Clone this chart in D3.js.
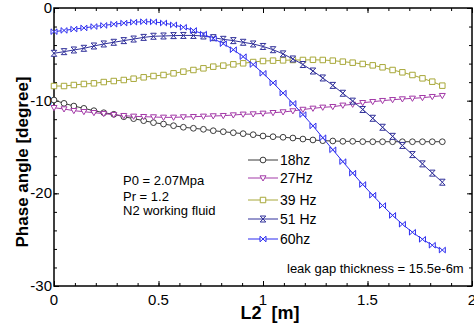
<!DOCTYPE html>
<html>
<head>
<meta charset="utf-8">
<script src="https://cdn.jsdelivr.net/npm/d3@7"></script>
<style>
  body { margin: 0; background: #fff; }
  svg { display: block; font-family: "Liberation Sans", Arial, sans-serif; }
</style>
</head>
<body>
<div id="chart"></div>
<script>
// L2 positions (m)
var xs = [0, 0.048, 0.095, 0.143, 0.191, 0.238, 0.286, 0.334, 0.381, 0.429,
  0.476, 0.524, 0.572, 0.619, 0.667, 0.715, 0.762, 0.810, 0.858, 0.905,
  0.953, 1.000, 1.048, 1.096, 1.143, 1.191, 1.239, 1.286, 1.334, 1.382,
  1.429, 1.477, 1.525, 1.572, 1.620, 1.667, 1.715, 1.763, 1.810, 1.858];

// phase angle (degree) per frequency
var hz18 = [-9.93, -10.29, -10.58, -10.83, -11.08, -11.3, -11.47, -11.73, -11.94, -12.16,
  -12.37, -12.52, -12.7, -12.87, -12.98, -13.09, -13.24, -13.35, -13.46, -13.56,
  -13.67, -13.81, -13.89, -13.95, -14.03, -14.14, -14.24, -14.32, -14.35, -14.39,
  -14.39, -14.42, -14.43, -14.43, -14.43, -14.43, -14.43, -14.43, -14.43, -14.43];
var hz27 = [-10.76, -10.9, -11.08, -11.19, -11.3, -11.4, -11.51, -11.62, -11.69, -11.73,
  -11.76, -11.8, -11.8, -11.76, -11.73, -11.69, -11.65, -11.62, -11.55, -11.47,
  -11.44, -11.37, -11.3, -11.22, -11.11, -10.95, -10.83, -10.72, -10.65, -10.5,
  -10.4, -10.22, -10.11, -10.0, -9.9, -9.82, -9.75, -9.68, -9.57, -9.46];
var hz39 = [-8.42, -8.42, -8.31, -8.2, -8.13, -7.99, -7.88, -7.77, -7.63, -7.48,
  -7.34, -7.23, -7.05, -6.87, -6.69, -6.51, -6.33, -6.22, -6.08, -5.97,
  -5.83, -5.72, -5.68, -5.65, -5.61, -5.61, -5.59, -5.61, -5.68, -5.79,
  -5.9, -6.04, -6.19, -6.4, -6.69, -6.94, -7.23, -7.59, -7.95, -8.38];
var hz51 = [-4.89, -4.71, -4.53, -4.35, -4.1, -3.88, -3.7, -3.52, -3.35, -3.17,
  -3.05, -3.02, -2.98, -2.96, -2.96, -3.02, -3.2, -3.38, -3.52, -3.7,
  -3.88, -4.15, -4.5, -4.95, -5.5, -6.1, -6.8, -7.55, -8.35, -9.2,
  -10.05, -10.95, -11.9, -12.87, -13.85, -14.83, -15.82, -16.82, -17.82, -18.8];
var hz60 = [-2.55, -2.42, -2.28, -2.15, -2.0, -1.88, -1.75, -1.63, -1.53, -1.48,
  -1.5, -1.62, -1.82, -2.08, -2.42, -2.82, -3.3, -3.85, -4.5, -5.25,
  -6.1, -7.05, -8.08, -9.18, -10.3, -11.5, -12.72, -14.0, -15.3, -16.58,
  -17.82, -19.05, -20.2, -21.32, -22.38, -23.33, -24.2, -24.96, -25.6, -26.12];

var seriesNames = ["18hz", "27Hz", "39 Hz", "51 Hz", "60hz"];
var xTicks = [0, 0.5, 1, 1.5, 2];
var yTicks = [0, -10, -20, -30];

var series = [
  {name: seriesNames[0], vals: hz18, color: "#3a3a3a", marker: "circle"},
  {name: seriesNames[1], vals: hz27, color: "#a33aa8", marker: "tri"},
  {name: seriesNames[2], vals: hz39, color: "#a8a83a", marker: "square"},
  {name: seriesNames[3], vals: hz51, color: "#30309a", marker: "hourglass"},
  {name: seriesNames[4], vals: hz60, color: "#2b2bf0", marker: "bowtie"}
];

var W = 474, H = 323;
var margin = {top: 8, right: 2, bottom: 37, left: 54};
var width = W - margin.left - margin.right,
    height = H - margin.top - margin.bottom;

var svg = d3.select("#chart").append("svg")
  .attr("width", W).attr("height", H);
svg.append("rect").attr("width", W).attr("height", H).attr("fill", "#fff");

var g = svg.append("g")
  .attr("transform", "translate(" + margin.left + "," + margin.top + ")");

var x = d3.scaleLinear().domain([0, 2]).range([0, width]);
var y = d3.scaleLinear().domain([-30, 0]).range([height, 0]);

// minor + major ticks, pointing inward on all four sides
var xMinor = d3.range(0, 2.0001, 0.1);
var yMinor = d3.range(-30, 0.0001, 2);

function inTicks(axisFn, scale, vals, len) {
  return axisFn(scale).tickValues(vals).tickSize(len).tickFormat("");
}

g.append("g").attr("transform", "translate(0," + height + ")")
  .call(inTicks(d3.axisTop, x, xMinor, 3));
g.append("g").attr("transform", "translate(0," + height + ")")
  .call(inTicks(d3.axisTop, x, xTicks, 5));
g.append("g").call(inTicks(d3.axisBottom, x, xMinor, 3));
g.append("g").call(inTicks(d3.axisBottom, x, xTicks, 5));
g.append("g").call(inTicks(d3.axisRight, y, yMinor, 3));
g.append("g").call(inTicks(d3.axisRight, y, yTicks, 5));
g.append("g").attr("transform", "translate(" + width + ",0)")
  .call(inTicks(d3.axisLeft, y, yMinor, 3));
g.append("g").attr("transform", "translate(" + width + ",0)")
  .call(inTicks(d3.axisLeft, y, yTicks, 5));
g.selectAll(".domain").remove();
g.selectAll(".tick line").attr("stroke", "#000").attr("stroke-width", 1);

// frame
g.append("rect").attr("width", width).attr("height", height)
  .attr("fill", "none").attr("stroke", "#000").attr("stroke-width", 1.5);

// tick labels
g.selectAll(".xlab").data(xTicks).enter().append("text")
  .attr("x", function(d) { return x(d); })
  .attr("y", height + 19)
  .attr("text-anchor", "middle")
  .style("font-size", "15px")
  .text(function(d) { return d; });

g.selectAll(".ylab").data(yTicks).enter().append("text")
  .attr("x", -2)
  .attr("y", function(d) { return y(d) + 5; })
  .attr("text-anchor", "end")
  .style("font-size", "15px")
  .text(function(d) { return d; });

// axis titles
svg.append("text")
  .attr("x", 270).attr("y", 319)
  .attr("text-anchor", "middle")
  .style("font-size", "18px").style("font-weight", "bold")
  .attr("xml:space", "preserve")
  .text("L2  [m]");

svg.append("text")
  .attr("transform", "translate(28,162) rotate(-90)")
  .attr("text-anchor", "middle")
  .style("font-size", "17px").style("font-weight", "bold")
  .text("Phase angle [degree]");

// markers
function markerPath(type) {
  if (type === "circle") return d3.symbol(d3.symbolCircle, 26)();
  if (type === "square") return d3.symbol(d3.symbolSquare, 30)();
  if (type === "tri") return "M-3,-2.2L3,-2.2L0,3Z";
  if (type === "hourglass") return "M-2.8,-3H2.8L-2.8,3H2.8Z";
  return "M-3,-2.8V2.8L3,-2.8V2.8Z";
}

var line = d3.line()
  .x(function(d) { return x(d[0]); })
  .y(function(d) { return y(d[1]); });

series.forEach(function(s) {
  var pts = xs.map(function(v, i) { return [v, s.vals[i]]; });
  var sg = g.append("g");
  sg.append("path").datum(pts)
    .attr("d", line)
    .attr("fill", "none")
    .attr("stroke", s.color)
    .attr("stroke-width", 1);
  sg.selectAll("path.m").data(pts).enter().append("path")
    .attr("class", "m")
    .attr("transform", function(d) { return "translate(" + x(d[0]) + "," + y(d[1]) + ")"; })
    .attr("d", markerPath(s.marker))
    .attr("fill", "#fff")
    .attr("stroke", s.color)
    .attr("stroke-width", 1);
});

// legend
var legendY = [160, 178, 200, 219, 239];
var lg = svg.append("g");
series.forEach(function(s, i) {
  var ly = legendY[i];
  lg.append("line")
    .attr("x1", 248).attr("x2", 278).attr("y1", ly).attr("y2", ly)
    .attr("stroke", s.color).attr("stroke-width", 1);
  lg.append("path")
    .attr("transform", "translate(263," + ly + ")")
    .attr("d", markerPath(s.marker))
    .attr("fill", "#fff").attr("stroke", s.color).attr("stroke-width", 1);
  lg.append("text")
    .attr("x", 280).attr("y", ly + 5)
    .style("font-size", "14px")
    .text(s.name);
});

// annotations
var notes = ["P0 = 2.07Mpa", "Pr = 1.2", "N2 working fluid"];
var noteY = [185, 201, 215];
svg.selectAll(".note").data(notes).enter().append("text")
  .attr("x", 123)
  .attr("y", function(d, i) { return noteY[i]; })
  .style("font-size", "13px")
  .text(function(d) { return d; });

svg.append("text")
  .attr("x", 287).attr("y", 273)
  .style("font-size", "13px")
  .text("leak gap thickness = 15.5e-6m");
</script>
</body>
</html>
